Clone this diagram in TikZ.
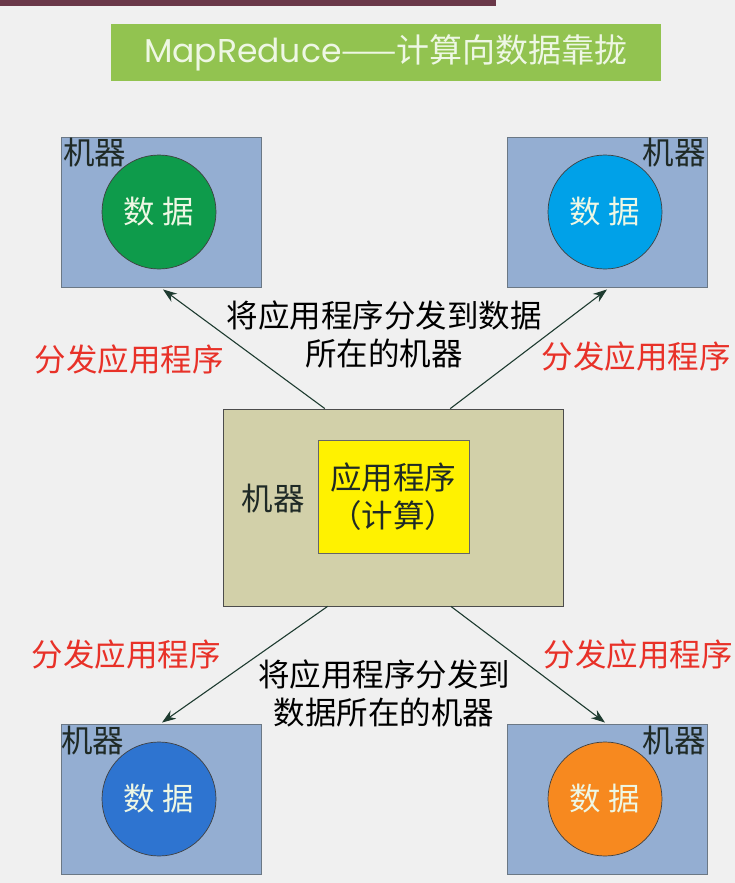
\documentclass[tikz,border=0pt]{standalone}
\usepackage{fontspec}
\setmainfont{Noto Sans CJK SC}
\newfontfamily\latinfont{Poppins}
\usetikzlibrary{arrows.meta, positioning, calc}
\definecolor{PageGray}{HTML}{F0F0F0}
\definecolor{TopBar}{HTML}{6A3849}
\definecolor{TitleGreen}{HTML}{92C350}
\definecolor{TitleText}{HTML}{EEF7E4}
\definecolor{BoxBlue}{HTML}{94AED2}
\definecolor{BoxLine}{HTML}{6B7885}
\definecolor{HostFill}{HTML}{D2D0A9}
\definecolor{AppYellow}{HTML}{FFF200}
\definecolor{DGreen}{HTML}{0E9B4B}
\definecolor{DCyan}{HTML}{00A1E8}
\definecolor{DBlue}{HTML}{2E74D0}
\definecolor{DOrange}{HTML}{F7891F}
\definecolor{LabelRed}{HTML}{E83128}
\definecolor{ArrowInk}{HTML}{1E3B30}
\definecolor{TextInk}{HTML}{1F2A26}

\begin{document}
\begin{tikzpicture}[x=1pt, y=-1pt,
    big/.style={font=\fontsize{31.5}{38}\selectfont},
    machine/.style={draw=BoxLine, line width=0.9pt, fill=BoxBlue, minimum width=200pt, minimum height=150pt, inner sep=0pt},
    datum/.style={circle, draw=black!75, line width=0.7pt, minimum size=114pt, inner sep=0pt, text=TitleText, big},
    tag/.style={big, text=TextInk, inner sep=0pt},
    redtag/.style={big, text=LabelRed, inner sep=0pt},
    note/.style={big, text=black, inner sep=0pt, align=center},
    ship/.style={ArrowInk, line width=1.1pt, -{Stealth[length=14pt, width=10pt]}}]
    % page and top bar
    \clip (0,0) rectangle (735,883);
    \fill[PageGray] (0,0) rectangle (735,883);
    \fill[TopBar] (0,0) rectangle (496,6);

    % title
    \node[fill=TitleGreen, minimum width=550pt, minimum height=57pt, inner sep=0pt, text=TitleText,
          font=\fontsize{33}{38}\selectfont] (title) at (386,52.5)
        {{\latinfont MapReduce}——计算向数据靠拢};

    % the four machines holding data
    \node[machine] (m1) at (161,212) {};
    \node[machine] (m2) at (607,212) {};
    \node[machine] (m3) at (161,799) {};
    \node[machine] (m4) at (607,799) {};
    \node[datum, fill=DGreen] (d1) at (159,212) {数 据};
    \node[datum, fill=DCyan] (d2) at (605,212) {数 据};
    \node[datum, fill=DBlue] (d3) at (159,799) {数 据};
    \node[datum, fill=DOrange] (d4) at (605,799) {数 据};
    \node[tag, anchor=north west] (t1) at (63,138) {机器};
    \node[tag, anchor=north east] (t2) at (706,138) {机器};
    \node[tag, anchor=north west] (t3) at (61,726) {机器};
    \node[tag, anchor=north east] (t4) at (706,726) {机器};

    % central machine with the application
    \node[draw=black!70, line width=0.8pt, fill=HostFill, minimum width=340pt, minimum height=197pt, inner sep=0pt] (host) at (393,507.5) {};
    \node[draw=black!60, line width=0.8pt, fill=AppYellow, minimum width=151pt, minimum height=113pt, inner sep=0pt] (app) at (393.5,496.5) {};
    \node[note, text=TextInk] (code) at (393,497) {应用程序\\（计算）};
    \node[tag] (th) at (273,499) {机器};

    % shipping the program
    \coordinate (hl) at ($(host.north west)!0.3!(host.north east)$);
    \coordinate (hr) at ($(host.north west)!0.668!(host.north east)$);
    \coordinate (bl) at ($(host.south west)!0.308!(host.south east)$);
    \coordinate (br) at ($(host.south west)!0.67!(host.south east)$);
    \draw[ship] (hl) -- ([xshift=2pt, yshift=-2pt]m1.south);
    \draw[ship] (hr) -- ([yshift=-2pt]m2.south);
    \draw[ship] (bl) -- ([xshift=1pt, yshift=1pt]m3.north);
    \draw[ship] (br) -- ([xshift=-2pt, yshift=1pt]m4.north);

    % labels
    \node[redtag] (r1) at (129,360) {分发应用程序};
    \node[redtag] (r2) at (636,357) {分发应用程序};
    \node[redtag] (r3) at (126,655) {分发应用程序};
    \node[redtag] (r4) at (638,655) {分发应用程序};
    \node[note] (up) at (384,334) {将应用程序分发到数据\\所在的机器};
    \node[note] (down) at (384,693) {将应用程序分发到\\数据所在的机器};
\end{tikzpicture}
\end{document}
